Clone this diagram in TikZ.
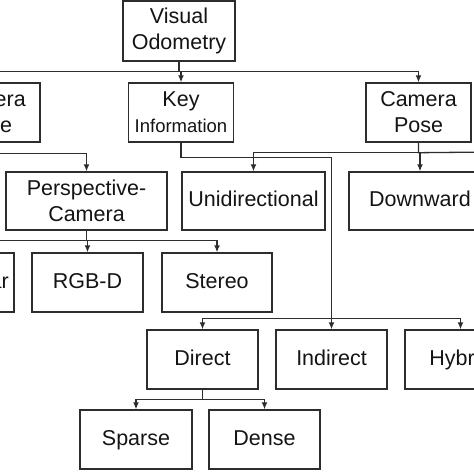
\documentclass[tikz,border=0pt]{standalone}
\usepackage{fontspec}
\setmainfont{Liberation Sans}
\usetikzlibrary{arrows.meta,positioning}
\definecolor{linegray}{RGB}{45,45,45}
\definecolor{textgray}{RGB}{20,20,20}

\begin{document}
\begin{tikzpicture}[x=1pt, y=-1pt,
  every node/.style={font=\fontsize{21.5}{26}\selectfont, text=textgray},
  box/.style={draw=linegray, line width=1.4pt, fill=white, minimum height=59pt,
              minimum width=111pt, inner sep=0pt, align=center},
  oneline/.style={text height=15.5pt, text depth=4.5pt},
  arr/.style={-{Latex[length=7pt,width=6pt]}, linegray, line width=1.3pt},
  conn/.style={linegray, line width=1.3pt},
]
\useasboundingbox (0,0) rectangle (474,474);
\clip (0,0) rectangle (474,474);

% Level 0
\node[box, minimum width=112pt, minimum height=60pt] (vo) at (179,31) {Visual\\Odometry};

% Level 1
\node[box, minimum width=105pt] (pose1) at (-12.5,112.5) {Camera\\Pose};
\node[box, minimum width=105pt] (keyinfo) at (181,112.5)
  {Key\\{\fontsize{18.5}{22}\selectfont Information}};
\node[box, minimum width=105pt] (pose2) at (418.5,112.5) {Camera\\Pose};

% Level 2
\node[box, minimum width=161pt, minimum height=58pt] (persp) at (86.5,201) {Perspective-\\Camera};
\node[box, oneline, minimum width=143pt, minimum height=58pt] (unidir) at (253.5,201) {Unidirectional};
\node[box, oneline, minimum width=142pt, minimum height=58pt] (downw) at (420,201) {Downward};

% Level 3
\node[box, oneline] (mono) at (-41.5,282.5) {Monocular};
\node[box, oneline] (rgbd) at (87.5,282.5) {RGB-D};
\node[box, oneline, minimum width=110pt] (stereo) at (217,282.5) {Stereo};

% Level 4
\node[box, oneline] (direct) at (202.5,359.5) {Direct};
\node[box, oneline] (indirect) at (331.5,359.5) {Indirect};
\node[box, oneline] (hybrid) at (460.5,359.5) {Hybrid};

% Level 5
\node[box, oneline, minimum width=112pt] (sparse) at (136,439.5) {Sparse};
\node[box, oneline] (dense) at (264.5,439.5) {Dense};

% Arrows
\draw[arr] (vo.south) -- ++(0,10) -| (pose1.north);
\draw[arr] (vo.south) -- ++(0,10) -| (keyinfo.north);
\draw[arr] (vo.south) -- ++(0,10) -| (pose2.north);

\draw[arr] (pose1.south) -- ++(0,11) -| (persp.north);

\draw[arr] (pose2.south) -- ++(0,10) -| (unidir.north);
\draw[arr] (pose2.south) -- ++(0,10) -| (downw.north);
\coordinate (offR) at (490,152);
\draw[conn] (pose2.south) -- ++(0,10) -- (offR);

\draw[arr] (persp.south) -- ++(0,10) -| (mono.north);
\draw[arr] (persp.south) -- ++(0,10) -| (rgbd.north);
\draw[arr] (persp.south) -- ++(0,10) -| (stereo.north);

\draw[arr] (keyinfo.south) -- ++(0,15) -| (indirect.north);
\coordinate (ib) at ([yshift=11pt]indirect.north);
\draw[arr] (ib) -| (direct.north);
\draw[arr] (ib) -| (hybrid.north);

\draw[arr] (direct.south) -- ++(0,10) -| (sparse.north);
\draw[arr] (direct.south) -- ++(0,10) -| (dense.north);

\end{tikzpicture}
\end{document}
